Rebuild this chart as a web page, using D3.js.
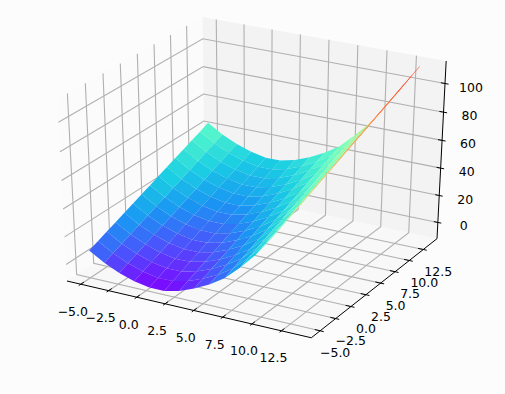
<!DOCTYPE html>
<html lang="en">

<head>
    <meta charset="utf-8">
    <script src='https://d3js.org/d3.v7.min.js'></script>
</head>

<body style="margin:0;background:#fcfcfc">

    <script>
        var width = 505, height = 394;

        // surface. one row of zRows per value of ys, one column per value of xs
        var xs = [-5, -3.68, -2.36, -1.04, 0.29, 1.61, 2.93, 4.25, 5.57, 6.89, 8.21, 9.54, 10.86, 12.18, 13.5];
        var ys = [-5, -3.68, -2.36, -1.04, 0.29, 1.61, 2.93, 4.25, 5.57, 6.89, 8.21, 9.54, 10.86, 12.18, 13.5];
        var zRows = [
            [7.8, 1.3, -3.7, -7.3, -9.4, -9.3, -6.8, -2.6, 2.9, 9.9, 19.9, 31.4, 45.4, 60.9, 76.4],
            [10.4, 3.9, -1, -4.6, -6.8, -6.6, -4.1, 0, 5.5, 12.5, 22.5, 34, 48, 63.5, 79],
            [13.1, 6.6, 1.6, -2, -4.1, -4, -1.5, 2.7, 8.2, 15.2, 25.2, 36.7, 50.7, 66.2, 81.7],
            [15.7, 9.2, 4.2, 0.6, -1.5, -1.3, 1.1, 5.3, 10.8, 17.8, 27.8, 39.3, 53.3, 68.8, 84.3],
            [18.4, 11.9, 6.9, 3.3, 1.2, 1.3, 3.8, 8, 13.5, 20.5, 30.5, 42, 56, 71.5, 87],
            [21, 14.5, 9.5, 6, 3.8, 3.9, 6.4, 10.6, 16.1, 23.1, 33.1, 44.6, 58.6, 74.1, 89.6],
            [23.7, 17.2, 12.2, 8.6, 6.5, 6.6, 9.1, 13.3, 18.8, 25.8, 35.8, 47.3, 61.3, 76.8, 92.3],
            [26.3, 19.8, 14.8, 11.2, 9.1, 9.2, 11.7, 15.9, 21.4, 28.4, 38.4, 49.9, 63.9, 79.4, 94.9],
            [29, 22.5, 17.5, 13.9, 11.8, 11.9, 14.4, 18.6, 24.1, 31.1, 41.1, 52.6, 66.6, 82.1, 97.6],
            [31.6, 25.1, 20.1, 16.5, 14.4, 14.5, 17, 21.2, 26.7, 33.7, 43.7, 55.2, 69.2, 84.7, 100.2],
            [34.3, 27.8, 22.8, 19.2, 17.1, 17.2, 19.7, 23.9, 29.4, 36.4, 46.4, 57.9, 71.9, 87.4, 102.9],
            [36.9, 30.4, 25.4, 21.8, 19.7, 19.8, 22.3, 26.5, 32, 39, 49, 60.5, 74.5, 90, 105.5],
            [39.6, 33.1, 28.1, 24.5, 22.4, 22.5, 25, 29.2, 34.7, 41.7, 51.7, 63.2, 77.2, 92.7, 108.2],
            [42.2, 35.7, 30.7, 27.1, 25, 25.1, 27.6, 31.8, 37.3, 44.3, 54.3, 65.8, 79.8, 95.3, 110.8],
            [44.9, 38.4, 33.4, 29.8, 27.7, 27.8, 30.3, 34.5, 40, 47, 57, 68.5, 82.5, 98, 113.5]
        ];

        var xTicks = [-5, -2.5, 0, 2.5, 5, 7.5, 10, 12.5];
        var yTicks = [-5, -2.5, 0, 2.5, 5, 7.5, 10, 12.5];
        var zTicks = [0, 20, 40, 60, 80, 100];

        // matplotlib rainbow colormap
        var rainbowStops = ['#8000ff', '#4d4ffc', '#1996f3', '#1acee3', '#4df3ce', '#80ffb4', '#b3f396', '#e6ce74', '#ff964f', '#ff4f28', '#ff0000'];

        // data -> unit cube
        var x = d3.scaleLinear().domain([-6.25, 15]).range([0, 1]);
        var y = d3.scaleLinear().domain([-6.4, 15]).range([0, 1]);
        var z = d3.scaleLinear().domain([-12.2, 115.5]).range([0, 1]);

        var x0 = x.domain()[0], x1 = x.domain()[1];
        var y0 = y.domain()[0], y1 = y.domain()[1];
        var z0 = z.domain()[0], z1 = z.domain()[1];

        // camera
        var elev = 30 * Math.PI / 180, azim = -61 * Math.PI / 180, dist = 10;
        var w = [Math.cos(azim) * Math.cos(elev), Math.sin(azim) * Math.cos(elev), Math.sin(elev)];
        var u = [-Math.sin(azim), Math.cos(azim), 0];
        var v = [w[1] * u[2] - w[2] * u[1], w[2] * u[0] - w[0] * u[2], w[0] * u[1] - w[1] * u[0]];

        function dot(a, b) { return a[0] * b[0] + a[1] * b[1] + a[2] * b[2]; }

        function depth(a, b, c) {
            return dot([x(a) - 0.5, y(b) - 0.5, z(c) - 0.5], w);
        }

        function view(a, b, c) {
            var p = [x(a) - 0.5, y(b) - 0.5, z(c) - 0.5];
            var d = dist - dot(p, w);
            return [dot(p, u) / d, dot(p, v) / d];
        }

        // projected plane -> pixels, pinned on the box corners
        var sx = d3.scaleLinear().domain([view(x0, y0, z0)[0], view(x1, y1, z0)[0]]).range([67, 437]);
        var sy = d3.scaleLinear().domain([view(x0, y0, z0)[1], view(x1, y1, z1)[1]]).range([281, 61]);

        function project(a, b, c) {
            var p = view(a, b, c);
            return [sx(p[0]), sy(p[1])];
        }

        var svg = d3.select('body').append('svg')
            .attr('width', width).attr('height', height)
            .style('display', 'block');

        var line = d3.line();

        function polyline(points, colour, lineWidth) {
            svg.append('path')
                .attr('d', line(points))
                .attr('fill', 'none')
                .attr('stroke', colour)
                .attr('stroke-width', lineWidth);
        }

        // panes
        var panes = [
            { fill: '#fbfbfb', pts: [[x0, y0, z0], [x0, y1, z0], [x0, y1, z1], [x0, y0, z1]] },
            { fill: '#f3f3f3', pts: [[x0, y1, z0], [x1, y1, z0], [x1, y1, z1], [x0, y1, z1]] },
            { fill: '#f8f8f8', pts: [[x0, y0, z0], [x1, y0, z0], [x1, y1, z0], [x0, y1, z0]] }
        ];
        svg.selectAll('path.pane')
            .data(panes)
            .join('path')
            .attr('class', 'pane')
            .attr('fill', function(d) { return d.fill; })
            .attr('d', function(d) {
                return line(d.pts.map(function(p) { return project(p[0], p[1], p[2]); })) + 'Z';
            });

        // grid
        var gridColour = '#b0b0b0';
        xTicks.forEach(function(t) {
            polyline([project(t, y0, z0), project(t, y1, z0), project(t, y1, z1)], gridColour, 1.1);
        });
        yTicks.forEach(function(t) {
            polyline([project(x1, t, z0), project(x0, t, z0), project(x0, t, z1)], gridColour, 1.1);
        });
        zTicks.forEach(function(t) {
            polyline([project(x0, y0, t), project(x0, y1, t), project(x1, y1, t)], gridColour, 1.1);
        });

        // surface facets, far ones first
        var colour = d3.scaleLinear()
            .domain(d3.range(rainbowStops.length).map(function(i) {
                return -10 + i / (rainbowStops.length - 1) * (113.5 + 10);
            }))
            .range(rainbowStops);

        var facets = [];
        for (var j = 0; j < ys.length - 1; j++) {
            for (var i = 0; i < xs.length - 1; i++) {
                var pts = [
                    [xs[i], ys[j], zRows[j][i]],
                    [xs[i + 1], ys[j], zRows[j][i + 1]],
                    [xs[i + 1], ys[j + 1], zRows[j + 1][i + 1]],
                    [xs[i], ys[j + 1], zRows[j + 1][i]]
                ];
                facets.push({
                    pts: pts,
                    edge: i >= xs.length - 2,
                    zm: d3.mean(pts, function(p) { return p[2]; }),
                    dm: d3.mean(pts, function(p) { return depth(p[0], p[1], p[2]); })
                });
            }
        }
        facets.sort(function(a, b) { return a.dm - b.dm; });

        svg.selectAll('path.facet')
            .data(facets)
            .join('path')
            .attr('class', 'facet')
            .attr('fill', function(d) { return colour(d.zm); })
            .attr('stroke', function(d) { return d.edge ? colour(d.zm) : 'none'; })
            .attr('stroke-width', 0.35)
            .attr('d', function(d) {
                return line(d.pts.map(function(p) { return project(p[0], p[1], p[2]); })) + 'Z';
            });

        // axis lines and ticks
        polyline([project(x0, y0, z0), project(x1, y0, z0), project(x1, y1, z0), project(x1, y1, z1)], '#000', 1);

        xTicks.forEach(function(t) {
            polyline([project(t, y0 - 0.3, z0), project(t, y0 + 0.45, z0)], '#000', 1);
        });
        yTicks.forEach(function(t) {
            polyline([project(x1 - 0.45, t, z0), project(x1 + 0.3, t, z0)], '#000', 1);
        });
        zTicks.forEach(function(t) {
            polyline([project(x1 - 0.35, y1, t), project(x1 + 0.3, y1, t)], '#000', 1);
        });

        // tick labels
        function label(t, pos, dx, dy) {
            svg.append('text')
                .attr('x', pos[0] + dx)
                .attr('y', pos[1] + dy)
                .attr('text-anchor', 'middle')
                .attr('dominant-baseline', 'central')
                .attr('font-family', 'DejaVu Sans')
                .attr('font-size', 12.5)
                .attr('fill', '#000')
                .text(t);
        }
        var fmt = d3.format('.1f');
        xTicks.forEach(function(t) { label(fmt(t).replace('-', '\u2212'), project(t, y0, z0), -8, 27); });
        yTicks.forEach(function(t) { label(fmt(t).replace('-', '\u2212'), project(x1, t, z0), 15, 22); });
        zTicks.forEach(function(t) { label(t, project(x1, y1, t), 26, 3.5); });

        console.log('ready..');
    </script>

</body>

</html>
